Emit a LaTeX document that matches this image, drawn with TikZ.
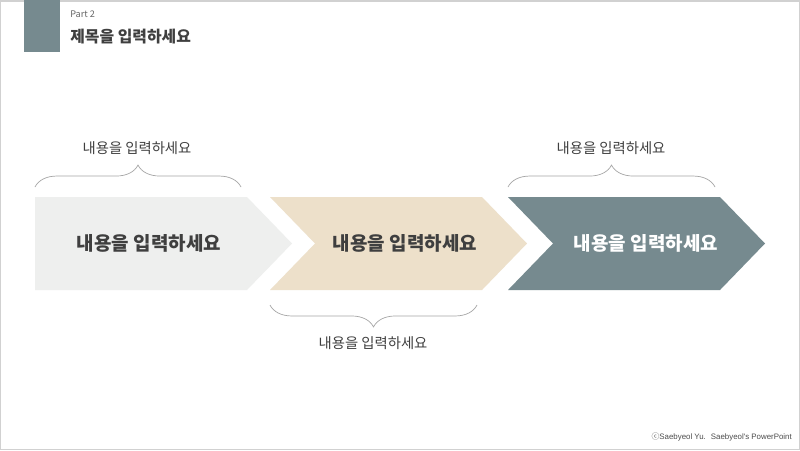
\documentclass[tikz,border=0pt]{standalone}
\usepackage{fontspec}
\setmainfont{Noto Sans CJK KR}
\newfontfamily\voetfont{Liberation Sans}
\usepackage{tikz}
\usetikzlibrary{calc,decorations.pathreplacing}
\definecolor{lichtgrijs}{HTML}{EEEFEE}
\definecolor{beige}{HTML}{EDE0CA}
\definecolor{blauwgrijs}{HTML}{768A8F}
\definecolor{tekstgrijs}{HTML}{3F3F3F}
\definecolor{haakgrijs}{HTML}{A6A6A6}
\tikzset{
    pijltekst/.style={font=\fontsize{13.5}{16}\selectfont\bfseries},
    haaktekst/.style={font=\fontsize{10.2}{12}\selectfont, text=tekstgrijs},
    haak/.style={draw=haakgrijs, line width=0.5pt, decorate, decoration={brace, amplitude=15.6pt}},
}
\NewDocumentCommand{\pijlstap}{O{45} m m m m m m m}{ % inkeping, links, schouder, kleur, tekstkleur, tekst x, naam, tekst
    \coordinate (#7-a) at (#2,197);
    \coordinate (#7-b) at (#3,197);
    \coordinate (#7-c) at ($(#3,243.5) + (45,0)$);
    \coordinate (#7-d) at (#3,290);
    \coordinate (#7-e) at (#2,290);
    \coordinate (#7-f) at ($(#2,243.5) + (#1,0)$);
    \fill[#4] (#7-a) -- (#7-b) -- (#7-c) -- (#7-d) -- (#7-e) -- (#7-f) -- cycle;
    \node[pijltekst, text=#5] (#7) at (#6,243) {#8};
}
\begin{document}
\begin{tikzpicture}[x=0.025cm, y=-0.025cm]
    \useasboundingbox (0,0) rectangle (800,450);
    \fill[white] (0,0) rectangle (800,450);
    \draw[black!18, line width=1pt] (0.5,0.5) rectangle (799.5,449.5);
    \draw[black!18, line width=1pt] (0,1.5) -- (800,1.5);

    % kop
    \fill[blauwgrijs] (24,0) rectangle (60,52);
    \node[anchor=west, inner sep=0pt, font=\fontsize{6.5}{8}\selectfont, text=black!60] (deel) at (70,14) {Part 2};
    \node[anchor=west, inner sep=0pt, font=\fontsize{11.3}{13}\selectfont\bfseries, text=tekstgrijs] (titel) at (70,37) {제목을 입력하세요};

    % pijlen
    \pijlstap[0]{35}{247}{lichtgrijs}{tekstgrijs}{149}{stap1}{내용을 입력하세요}
    \pijlstap{270}{482}{beige}{tekstgrijs}{405}{stap2}{내용을 입력하세요}
    \pijlstap{508}{720}{blauwgrijs}{white}{646}{stap3}{내용을 입력하세요}

    % haken
    \draw[haak] (35,187) -- (241,187);
    \node[haaktekst] (haak1) at (137,148) {내용을 입력하세요};
    \draw[haak] (477,305) -- (270,305);
    \node[haaktekst] (haak2) at (373,343) {내용을 입력하세요};
    \draw[haak] (508,187) -- (715,187);
    \node[haaktekst] (haak3) at (611,148) {내용을 입력하세요};

    % voet
    \node[anchor=east, inner sep=0pt, font=\fontsize{5.6}{7}\selectfont, text=black!70] (voet) at (792,437) {ⓒ\voetfont Saebyeol Yu.~ Saebyeol's PowerPoint};
\end{tikzpicture}
\end{document}
